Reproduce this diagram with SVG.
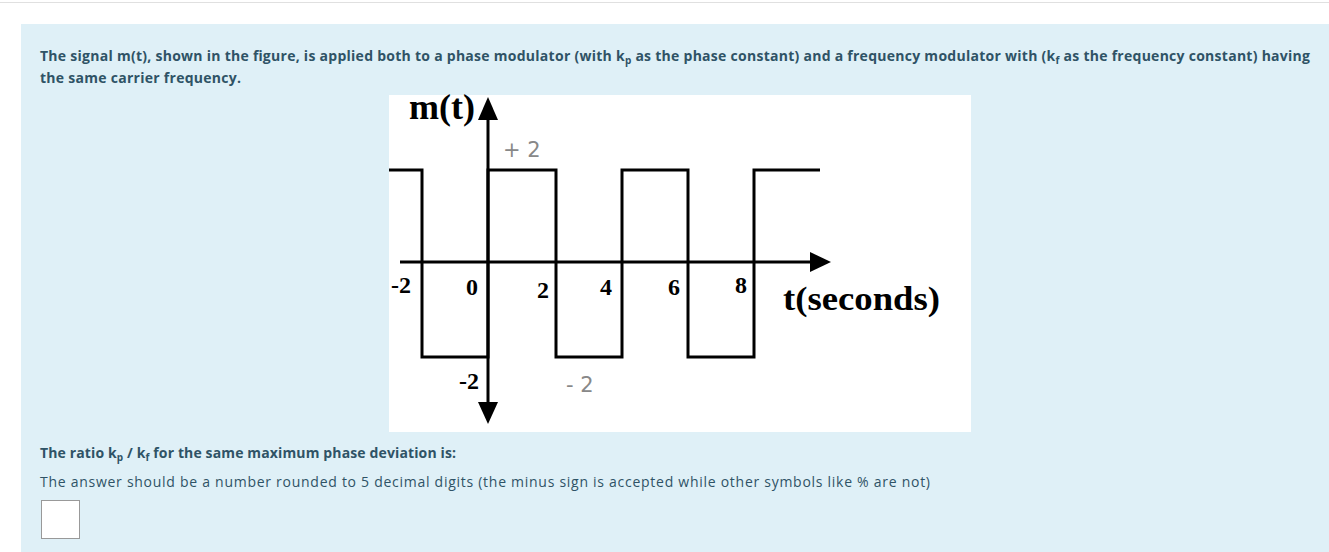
<svg xmlns="http://www.w3.org/2000/svg" width="1329" height="552" viewBox="0 0 1329 552">
<style>
.q{font-family:"Open Sans","DejaVu Sans",sans-serif;fill:#2f5366;font-size:14px}
.b{font-weight:bold}
.s{font-family:"Liberation Serif",serif;font-weight:bold;fill:#000}
.h{font-family:"DejaVu Sans",sans-serif;fill:#888;font-size:21px}
.w{fill:none;stroke:#000;stroke-width:3}
</style>
<rect width="1329" height="552" fill="#fff"/>
<line x1="0" y1="2.5" x2="1329" y2="2.5" stroke="#e0e0e0"/>
<rect x="21" y="24" width="1308" height="528" fill="#dff0f7"/>
<text class="q b" x="40" y="61" textLength="1270" lengthAdjust="spacing">The signal m(t), shown in the figure, is applied both to a phase modulator (with k<tspan font-size="10" dy="3">p</tspan><tspan dy="-3"> as the phase constant) and a frequency modulator with (k</tspan><tspan font-size="10" dy="3">f</tspan><tspan dy="-3"> as the frequency constant) having</tspan></text>
<text class="q b" x="40" y="83" textLength="201" lengthAdjust="spacing">the same carrier frequency.</text>
<g id="figure">
<rect x="389" y="95" width="582" height="337" fill="#fff"/>
<polyline class="w" points="389,170 422,170 422,357 488,357 488,170 556,170 556,357 622,357 622,170 688,170 688,357 754,357 754,170 820,170"/>
<g id="connectors">
<line class="w" x1="400" y1="262" x2="815" y2="262"/>
<polygon points="831,262 810,252 810,272"/>
<line class="w" x1="488" y1="112" x2="488" y2="408"/>
<polygon points="488,97 478,120 498,120"/>
<polygon points="488,424 478,402 498,402"/>
</g>
<text class="s" x="409" y="119" font-size="36" textLength="66" lengthAdjust="spacingAndGlyphs">m(t)</text>
<g font-size="24" class="s" text-anchor="middle">
<text x="401" y="293">-2</text><text x="472" y="295">0</text><text x="543" y="298">2</text><text x="606" y="295">4</text><text x="674" y="295">6</text><text x="741" y="293">8</text>
<text x="469" y="389">-2</text>
</g>
<text class="s" x="783" y="310" font-size="34" textLength="157" lengthAdjust="spacingAndGlyphs">t(seconds)</text>
<text class="h" x="503" y="157">+ 2</text>
<text class="h" x="566" y="392">- 2</text>
</g>
<text class="q b" x="40" y="458" textLength="416" lengthAdjust="spacing">The ratio k<tspan font-size="10" dy="3">p</tspan><tspan dy="-3"> / k</tspan><tspan font-size="10" dy="3">f</tspan><tspan dy="-3">   for the same maximum phase deviation is:</tspan></text>
<text class="q" x="40" y="487" textLength="890" lengthAdjust="spacing">The answer should be a number rounded to 5 decimal digits (the minus sign is accepted while other symbols like % are not)</text>
<rect x="41.5" y="500.5" width="38" height="38" fill="#fff" stroke="#999"/>
</svg>
